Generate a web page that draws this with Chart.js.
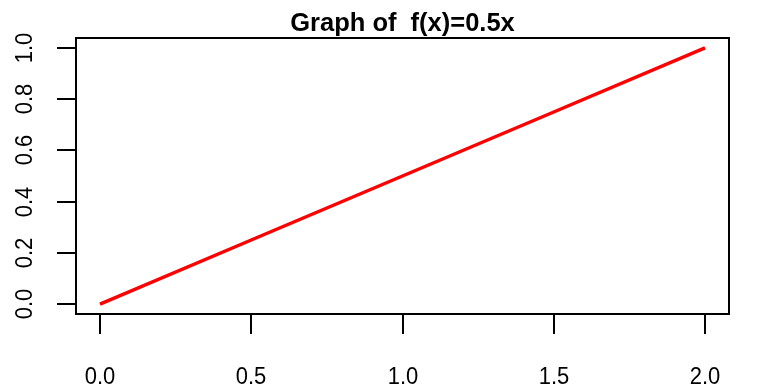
<!DOCTYPE html>
<html>
<head>
<meta charset="utf-8">
<script src="https://cdn.jsdelivr.net/npm/chart.js@4/dist/chart.umd.min.js"></script>
<style>
  html, body { margin: 0; padding: 0; background: #fff; }
  #wrap { width: 768px; height: 384px; }
</style>
</head>
<body>
<div id="wrap"><canvas id="c"></canvas></div>
<script>
// values
var xs = [0, 0.5, 1, 1.5, 2];
var ys = [0, 0.25, 0.5, 0.75, 1];
var xTicks = [0, 0.5, 1, 1.5, 2];
var yTicks = [0, 0.2, 0.4, 0.6, 0.8, 1];
var titleText = "Graph of  f(x)=0.5x";

var pts = [];
for (var i = 0; i < xs.length; i++) {
    pts.push({x: xs[i], y: ys[i]});
}

// R style frame, ticks and labels
var rAxes = {
    id: 'rAxes',
    afterDraw: function (chart) {
        var ctx = chart.ctx;
        var a = chart.chartArea;
        var sx = chart.scales.x, sy = chart.scales.y;
        ctx.save();
        ctx.strokeStyle = '#000';
        ctx.lineWidth = 2;
        ctx.strokeRect(Math.round(a.left), Math.round(a.top), Math.round(a.right - a.left), Math.round(a.bottom - a.top));

        ctx.fillStyle = '#000';
        ctx.font = '22px "Liberation Sans", Arial, sans-serif';
        ctx.textAlign = 'center';
        ctx.textBaseline = 'alphabetic';
        // x ticks
        xTicks.forEach(function (v) {
            var px = Math.round(sx.getPixelForValue(v));
            ctx.beginPath();
            ctx.moveTo(px, a.bottom);
            ctx.lineTo(px, a.bottom + 20);
            ctx.stroke();
            ctx.save();
            ctx.translate(px, 384);
            ctx.scale(1, 1.1);
            ctx.fillText(v.toFixed(1), 0, 0);
            ctx.restore();
        });
        // y ticks
        yTicks.forEach(function (v) {
            var py = Math.round(sy.getPixelForValue(v));
            ctx.beginPath();
            ctx.moveTo(a.left, py);
            ctx.lineTo(a.left - 19, py);
            ctx.stroke();
            ctx.save();
            ctx.translate(32, py);
            ctx.rotate(-Math.PI / 2);
            ctx.scale(1, 1.1);
            ctx.fillText(v.toFixed(1), 0, 0);
            ctx.restore();
        });
        // title
        ctx.font = 'bold 25.5px "Liberation Sans", Arial, sans-serif';
        ctx.fillText(titleText, (a.left + a.right) / 2, 31);
        ctx.restore();
    }
};

new Chart(document.getElementById('c'), {
    type: 'line',
    data: {
        datasets: [{
            data: pts,
            borderColor: '#ff0000',
            borderWidth: 3.5,
            pointRadius: 0,
            fill: false,
            tension: 0
        }]
    },
    options: {
        responsive: true,
        maintainAspectRatio: false,
        animation: false,
        layout: {padding: {left: 76, right: 39, top: 38, bottom: 70}},
        plugins: {legend: {display: false}, tooltip: {enabled: false}},
        scales: {
            x: {type: 'linear', display: false, min: -0.0793, max: 2.0793},
            y: {type: 'linear', display: false, min: -0.039, max: 1.039}
        }
    },
    plugins: [rAxes]
});
</script>
</body>
</html>
